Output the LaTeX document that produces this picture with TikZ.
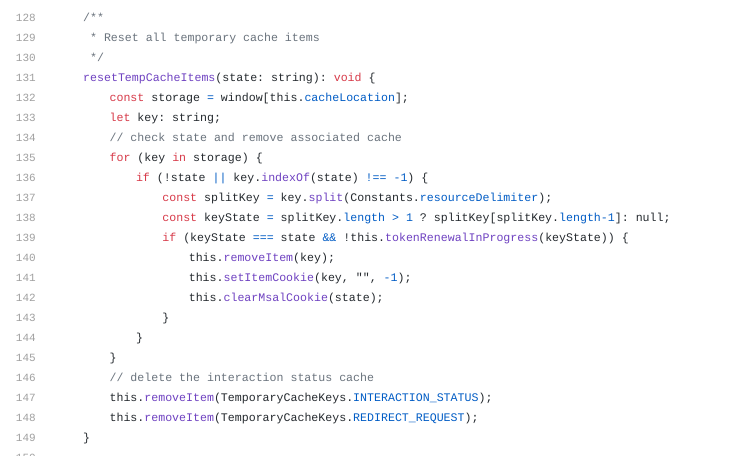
\documentclass[tikz,border=0pt]{standalone}
\usepackage{fontspec}
\setmonofont{Liberation Mono}
\definecolor{kw}{HTML}{D73A49}
\definecolor{fn}{HTML}{6F42C1}
\definecolor{cn}{HTML}{005CC5}
\definecolor{cm}{HTML}{6A737D}
\definecolor{tx}{HTML}{24292E}
\definecolor{ln}{HTML}{A0A0A0}
\newcommand{\K}[1]{\textcolor{kw}{#1}}
\newcommand{\F}[1]{\textcolor{fn}{#1}}
\newcommand{\C}[1]{\textcolor{cn}{#1}}
\newcommand{\M}[1]{\textcolor{cm}{#1}}
\tikzset{codeline/.style={anchor=base west,inner sep=0pt,font=\ttfamily\fontsize{11.6}{11.6}\selectfont,text=tx},
numline/.style={anchor=base east,inner sep=0pt,font=\ttfamily\fontsize{11}{11}\selectfont,text=ln}}
\begin{document}
\begin{tikzpicture}[x=1pt,y=-1pt]
\useasboundingbox (0,0) rectangle (730,455);
\begin{scope}
\clip (0,0) rectangle (730,455);
\fill[white] (0,0) rectangle (730,455);
\foreach \n [count=\i from 0] in {127,...,150}{
  \node[numline] (n\n) at (36,{1+20*\i}) {\n};
}
\def\X#1{\fpeval{83+26.4*#1}}
\node[codeline] (l128) at (\X0,21) {\M{/**}};
\node[codeline] (l129) at (89.9,41) {\M{* Reset all temporary cache items}};
\node[codeline] (l130) at (89.9,61) {\M{*/}};
\node[codeline] (l131) at (\X0,81) {\F{resetTempCacheItems}(state: string): \K{void} \{};
\node[codeline] (l132) at (\X1,101) {\K{const} storage \C{=} window[this.\C{cacheLocation}];};
\node[codeline] (l133) at (\X1,121) {\K{let} key: string;};
\node[codeline] (l134) at (\X1,141) {\M{// check state and remove associated cache}};
\node[codeline] (l135) at (\X1,161) {\K{for} (key \K{in} storage) \{};
\node[codeline] (l136) at (\X2,181) {\K{if} (!state \C{||} key.\F{indexOf}(state) \C{!==} \C{-1}) \{};
\node[codeline] (l137) at (\X3,201) {\K{const} splitKey \C{=} key.\F{split}(Constants.\C{resourceDelimiter});};
\node[codeline] (l138) at (\X3,221) {\K{const} keyState \C{=} splitKey.\C{length} \C{>} \C{1} ? splitKey[splitKey.\C{length}\C{-}\C{1}]: null;};
\node[codeline] (l139) at (\X3,241) {\K{if} (keyState \C{===} state \C{\&\&} !this.\F{tokenRenewalInProgress}(keyState)) \{};
\node[codeline] (l140) at (\X4,261) {this.\F{removeItem}(key);};
\node[codeline] (l141) at (\X4,281) {this.\F{setItemCookie}(key, "", \C{-1});};
\node[codeline] (l142) at (\X4,301) {this.\F{clearMsalCookie}(state);};
\node[codeline] (l143) at (\X3,321) {\}};
\node[codeline] (l144) at (\X2,341) {\}};
\node[codeline] (l145) at (\X1,361) {\}};
\node[codeline] (l146) at (\X1,381) {\M{// delete the interaction status cache}};
\node[codeline] (l147) at (\X1,401) {this.\F{removeItem}(TemporaryCacheKeys.\C{INTERACTION\_STATUS});};
\node[codeline] (l148) at (\X1,421) {this.\F{removeItem}(TemporaryCacheKeys.\C{REDIRECT\_REQUEST});};
\node[codeline] (l149) at (\X0,441) {\}};
\end{scope}
\end{tikzpicture}
\end{document}
